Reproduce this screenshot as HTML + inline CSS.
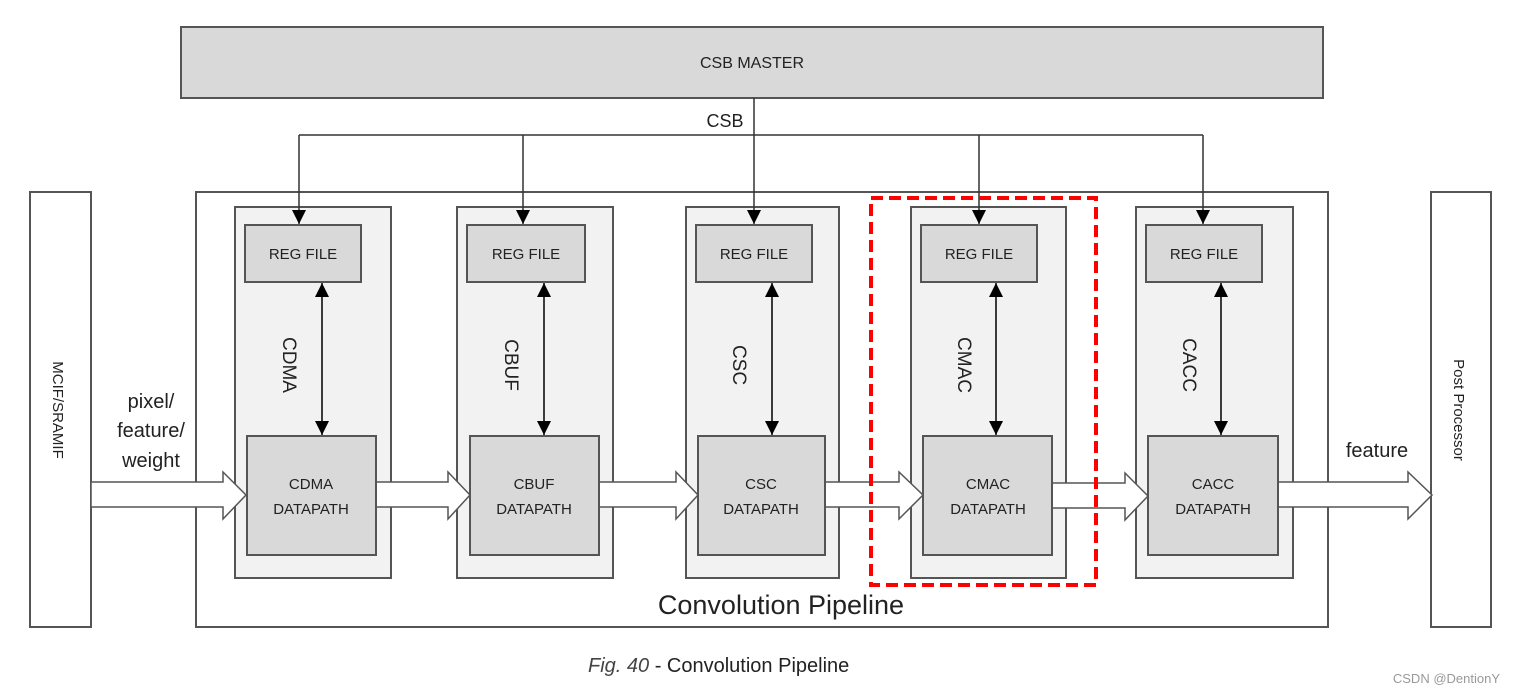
<!DOCTYPE html>
<html><head><meta charset="utf-8"><style>
html,body{margin:0;padding:0;background:#fff;}
svg{display:block;}
text{font-family:"Liberation Sans",sans-serif;fill:#222;}
</style></head><body>
<svg width="1514" height="691" viewBox="0 0 1514 691" xmlns="http://www.w3.org/2000/svg">
<defs>
<marker id="ah" viewBox="0 0 10 10" refX="10" refY="5" markerWidth="14" markerHeight="14" markerUnits="userSpaceOnUse" orient="auto-start-reverse"><path d="M0,0 L10,5 L0,10 z" fill="#000"/></marker>
</defs>
<!-- outer boxes -->
<rect x="196" y="192" width="1132" height="435" fill="#fff" stroke="#555" stroke-width="2"/>
<rect x="30" y="192" width="61" height="435" fill="#fff" stroke="#555" stroke-width="2"/>
<rect x="1431" y="192" width="60" height="435" fill="#fff" stroke="#555" stroke-width="2"/>
<text transform="translate(53,410) rotate(90)" font-size="15" text-anchor="middle">MCIF/SRAMIF</text>
<text transform="translate(1454,410) rotate(90)" font-size="15" text-anchor="middle">Post Processor</text>
<text x="781" y="614" font-size="27" text-anchor="middle">Convolution Pipeline</text>

<!-- units -->
<g stroke="#555" stroke-width="2">
<rect x="235" y="207" width="156" height="371" fill="#f2f2f2"/>
<rect x="457" y="207" width="156" height="371" fill="#f2f2f2"/>
<rect x="686" y="207" width="153" height="371" fill="#f2f2f2"/>
<rect x="911" y="207" width="155" height="371" fill="#f2f2f2"/>
<rect x="1136" y="207" width="157" height="371" fill="#f2f2f2"/>
<rect x="245" y="225" width="116" height="57" fill="#d9d9d9"/>
<rect x="467" y="225" width="118" height="57" fill="#d9d9d9"/>
<rect x="696" y="225" width="116" height="57" fill="#d9d9d9"/>
<rect x="921" y="225" width="116" height="57" fill="#d9d9d9"/>
<rect x="1146" y="225" width="116" height="57" fill="#d9d9d9"/>
</g>

<!-- CSB master -->
<rect x="181" y="27" width="1142" height="71" fill="#d9d9d9" stroke="#555" stroke-width="2"/>
<text x="752" y="68" font-size="16" text-anchor="middle">CSB MASTER</text>
<text x="725" y="127" font-size="18" text-anchor="middle">CSB</text>
<!-- bus -->
<line x1="299" y1="135" x2="1203" y2="135" stroke="#333" stroke-width="1.5"/>
<line x1="754" y1="98" x2="754" y2="224" stroke="#333" stroke-width="1.5" marker-end="url(#ah)"/>
<line x1="299" y1="135" x2="299" y2="224" stroke="#333" stroke-width="1.5" marker-end="url(#ah)"/>
<line x1="523" y1="135" x2="523" y2="224" stroke="#333" stroke-width="1.5" marker-end="url(#ah)"/>
<line x1="979" y1="135" x2="979" y2="224" stroke="#333" stroke-width="1.5" marker-end="url(#ah)"/>
<line x1="1203" y1="135" x2="1203" y2="224" stroke="#333" stroke-width="1.5" marker-end="url(#ah)"/>

<g font-size="15" text-anchor="middle">
<text x="303" y="259">REG FILE</text>
<text x="526" y="259">REG FILE</text>
<text x="754" y="259">REG FILE</text>
<text x="979" y="259">REG FILE</text>
<text x="1204" y="259">REG FILE</text>
</g>
<!-- bidirectional arrows -->
<g stroke="#000" stroke-width="1.5">
<line x1="322" y1="283" x2="322" y2="435" marker-start="url(#ah)" marker-end="url(#ah)"/>
<line x1="544" y1="283" x2="544" y2="435" marker-start="url(#ah)" marker-end="url(#ah)"/>
<line x1="772" y1="283" x2="772" y2="435" marker-start="url(#ah)" marker-end="url(#ah)"/>
<line x1="996" y1="283" x2="996" y2="435" marker-start="url(#ah)" marker-end="url(#ah)"/>
<line x1="1221" y1="283" x2="1221" y2="435" marker-start="url(#ah)" marker-end="url(#ah)"/>
</g>
<g font-size="19" text-anchor="middle">
<text transform="translate(283,365) rotate(90)">CDMA</text>
<text transform="translate(505,365) rotate(90)">CBUF</text>
<text transform="translate(733,365) rotate(90)">CSC</text>
<text transform="translate(958,365) rotate(90)">CMAC</text>
<text transform="translate(1183,365) rotate(90)">CACC</text>
</g>
<!-- block arrows -->
<g fill="#fff" stroke="#555" stroke-width="1.5">
<path d="M91,482 H223 V472 L246,495 L223,519 V507 H91 Z"/>
<path d="M376,482 H448 V472 L470,495 L448,519 V507 H376 Z"/>
<path d="M599,482 H676 V472 L698,495 L676,519 V507 H599 Z"/>
<path d="M825,482 H899 V472 L923,495 L899,519 V507 H825 Z"/>
<path d="M1052,483 H1125 V473 L1148,496 L1125,520 V508 H1052 Z"/>
<path d="M1278,482 H1408 V472 L1432,495 L1408,519 V507 H1278 Z"/>
</g>
<!-- datapaths -->
<g stroke="#555" stroke-width="2" fill="#d9d9d9">
<rect x="247" y="436" width="129" height="119"/>
<rect x="470" y="436" width="129" height="119"/>
<rect x="698" y="436" width="127" height="119"/>
<rect x="923" y="436" width="129" height="119"/>
<rect x="1148" y="436" width="130" height="119"/>
</g>
<g font-size="15" text-anchor="middle">
<text x="311" y="489">CDMA</text><text x="311" y="514">DATAPATH</text>
<text x="534" y="489">CBUF</text><text x="534" y="514">DATAPATH</text>
<text x="761" y="489">CSC</text><text x="761" y="514">DATAPATH</text>
<text x="988" y="489">CMAC</text><text x="988" y="514">DATAPATH</text>
<text x="1213" y="489">CACC</text><text x="1213" y="514">DATAPATH</text>
</g>
<g font-size="20" text-anchor="middle">
<text x="151" y="408">pixel/</text>
<text x="151" y="437">feature/</text>
<text x="151" y="467">weight</text>
<text x="1377" y="457">feature</text>
</g>
<!-- red dashed -->
<rect x="871" y="198" width="225" height="387" fill="none" stroke="#f00" stroke-width="4" stroke-dasharray="12,6"/>
<!-- caption -->
<text x="588" y="672" font-size="20" fill="#333"><tspan font-style="italic" fill="#444">Fig. 40</tspan> - Convolution Pipeline</text>
<text x="1500" y="683" font-size="13" text-anchor="end" style="fill:#999">CSDN @DentionY</text>
</svg>
</body></html>
